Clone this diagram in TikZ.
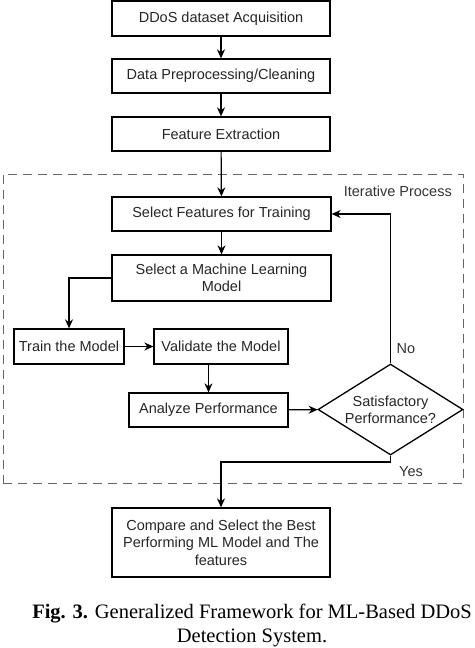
\documentclass[tikz,border=0pt]{standalone}
\usepackage{fontspec}
\setmainfont{Liberation Serif}
\setsansfont{Liberation Sans}
\usetikzlibrary{shapes.geometric,arrows.meta}
\begin{document}
\begin{tikzpicture}[x=1pt,y=-1pt,
  boxst/.style={draw=black, line width=1.3pt, rectangle, inner sep=0pt, align=center,
    font=\sffamily\fontsize{14.5}{17.5}\selectfont, text=black!85},
  decst/.style={draw=black, line width=1.3pt, diamond, aspect=1.6, inner sep=0pt,
    minimum width=145pt, minimum height=91pt, align=center,
    font=\sffamily\fontsize{14.5}{17}\selectfont, text=black!85},
  lab/.style={font=\sffamily\fontsize{14.5}{17}\selectfont, text=black!80, inner sep=0pt},
  conn/.style={draw=black, line width=1.2pt, -{Stealth[length=9pt,width=8pt]}},
  framest/.style={draw=black!60, line width=1pt, dash pattern=on 9pt off 6pt, rectangle, inner sep=0pt}
]
\useasboundingbox (0,0) rectangle (474,648);
\fill[white] (0,0) rectangle (474,648);

\node[framest, minimum width=460pt, minimum height=309pt] (frame) at (233,328.5) {};
\node[lab, anchor=east] (iterlab) at (452,191) {Iterative Process};

\node[boxst, minimum width=218pt, minimum height=35pt] (n1) at (221,18.5) {DDoS dataset Acquisition};
\node[boxst, minimum width=218pt, minimum height=34pt] (n2) at (221,76) {Data Preprocessing/Cleaning};
\node[boxst, minimum width=218pt, minimum height=34pt] (n3) at (221,134) {Feature Extraction};
\node[boxst, minimum width=219pt, minimum height=34pt] (n4) at (221.5,214) {Select Features for Training};
\node[boxst, minimum width=219pt, minimum height=46pt] (n5) at (221.5,278) {Select a Machine Learning\\Model};
\node[boxst, minimum width=110pt, minimum height=35pt] (n6) at (69,346.5) {Train the Model};
\node[boxst, minimum width=134pt, minimum height=35pt] (n7) at (221,346.5) {Validate the Model};
\node[boxst, minimum width=159pt, minimum height=34pt] (n8) at (208.5,410) {Analyze Performance};
\node[decst] (n9) at (390.5,409.5) {Satisfactory\\Performance?};
\node[boxst, minimum width=218pt, minimum height=69pt] (n10) at (221,542.5) {Compare and Select the Best\\Performing ML Model and The\\features};

\node[lab] (nolab) at (406,349) {No};
\node[lab] (yeslab) at (411,472) {Yes};

\draw[conn] (n1) -- (n2);
\draw[conn] (n2) -- (n3);
\draw[conn] (n3) -- (n4);
\draw[conn] (n4) -- (n5);
\draw[conn] (n5.west) -| (n6.north);
\draw[conn] (n6) -- (n7);
\draw[conn] (n8.north |- n7.south) -- (n8.north);
\draw[conn] (n8) -- (n9);
\draw[conn] (n9.north) |- (n4.east);
\coordinate (yb) at (390.5,462);
\draw[conn] (n9.south) -- (yb) -| (n10.north);

\node[font=\fontsize{20.5}{24}\selectfont, align=center, inner sep=0pt] (cap) at (252,625)
  {\textbf{Fig. 3.} Generalized Framework for ML-Based DDoS\\Detection System.};
\end{tikzpicture}
\end{document}
